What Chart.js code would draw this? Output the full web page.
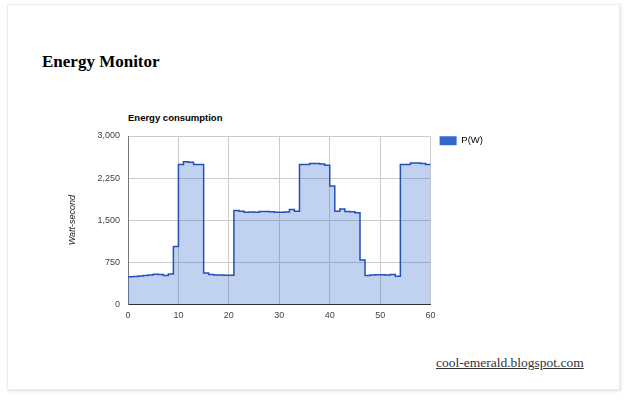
<!DOCTYPE html>
<html><head><meta charset="utf-8">
<script src="https://cdn.jsdelivr.net/npm/chart.js@4.4.0/dist/chart.umd.min.js"></script>
<style>
html,body{margin:0;padding:0;background:#fff;width:640px;height:413px;overflow:hidden;}
#card{position:absolute;left:7px;top:4px;width:611px;height:384px;border:1px solid #ececec;box-shadow:1px 1px 3px rgba(0,0,0,0.13);background:#fff;}
#heading{position:absolute;left:42px;top:52px;font:bold 17px "Liberation Serif","Times New Roman",serif;color:#000;}
#ctitle{position:absolute;left:128px;top:112px;font:bold 9.5px "Liberation Sans",Arial,sans-serif;color:#000;}
#wrap{position:absolute;left:40px;top:100px;width:560px;height:231px;}
#footer{position:absolute;left:436px;top:355px;font:13.5px "Liberation Serif","Times New Roman",serif;color:#333;text-decoration:underline;}
</style></head>
<body>
<div id="card"></div>
<div id="heading">Energy Monitor</div>
<div id="ctitle">Energy consumption</div>
<div id="wrap"><canvas id="c"></canvas></div>
<div id="footer">cool-emerald.blogspot.com</div>
<script>
const seconds = [0,1,2,3,4,5,6,7,8,9,10,11,12,13,14,15,16,17,18,19,20,21,22,23,24,25,26,27,28,29,30,31,32,33,34,35,36,37,38,39,40,41,42,43,44,45,46,47,48,49,50,51,52,53,54,55,56,57,58,59,60];
const powerW = [490,495,505,510,520,535,530,510,540,1030,2490,2540,2530,2490,2490,555,530,520,520,515,515,1670,1660,1640,1645,1640,1655,1655,1650,1640,1640,1645,1690,1660,2490,2490,2510,2510,2500,2480,2110,1660,1700,1655,1650,1630,790,510,520,525,525,520,530,500,2490,2490,2520,2520,2510,2490,2490];
const seriesName = 'P(W)';
const yTicks = [0,750,1500,2250,3000];
const xTicks = [0,10,20,30,40,50,60];

const points = seconds.map((s,i)=>({x:s,y:powerW[i]}));
Chart.defaults.font.family = '"Liberation Sans", Arial, sans-serif';
const legendShift = {id:'legendShift', afterLayout(c){
  const l=c.legend; if(!l) return;
  l.left+=3; l.right+=3; l.top-=6; l.bottom-=6;
}};
new Chart(document.getElementById('c'), {
  type:'line',
  data:{datasets:[{
    label:seriesName,
    data:points,
    stepped:'before',
    fill:'origin',
    backgroundColor:'rgba(51,102,204,0.3)',
    borderColor:'#2450b8',
    borderWidth:1.5,
    pointRadius:0
  }]},
  plugins:[legendShift],
  options:{
    responsive:true,maintainAspectRatio:false,animation:false,
    layout:{padding:{top:36,bottom:4,left:0,right:110}},
    plugins:{
      title:{display:false},
      tooltip:{enabled:false},
      legend:{position:'right',align:'start',
        labels:{boxWidth:17,boxHeight:9,padding:6,color:'#333',font:{size:9.5},
          generateLabels:(chart)=>[{text:seriesName,fillStyle:'#3366cc',strokeStyle:'#3366cc',lineWidth:0,datasetIndex:0}]}}
    },
    scales:{
      x:{type:'linear',min:0,max:60,
        afterBuildTicks:(s)=>{s.ticks=xTicks.map(v=>({value:v}));},
        ticks:{color:'#444',font:{size:9},padding:6,maxRotation:0},
        grid:{color:'#cccccc',drawTicks:false},
        border:{color:'#333'}},
      y:{min:0,max:3000,
        afterBuildTicks:(s)=>{s.ticks=yTicks.map(v=>({value:v}));},
        afterFit:(s)=>{s.width=88;},
        ticks:{color:'#444',font:{size:9},padding:8,callback:(v)=>v.toLocaleString('en-US')},
        grid:{color:'#cccccc',drawTicks:false},
        border:{color:'#777'},
        title:{display:true,text:'Watt-second',color:'#222',font:{size:9,style:'italic'},padding:{top:27,bottom:0}}}
    }
  }
});
</script>
</body></html>
